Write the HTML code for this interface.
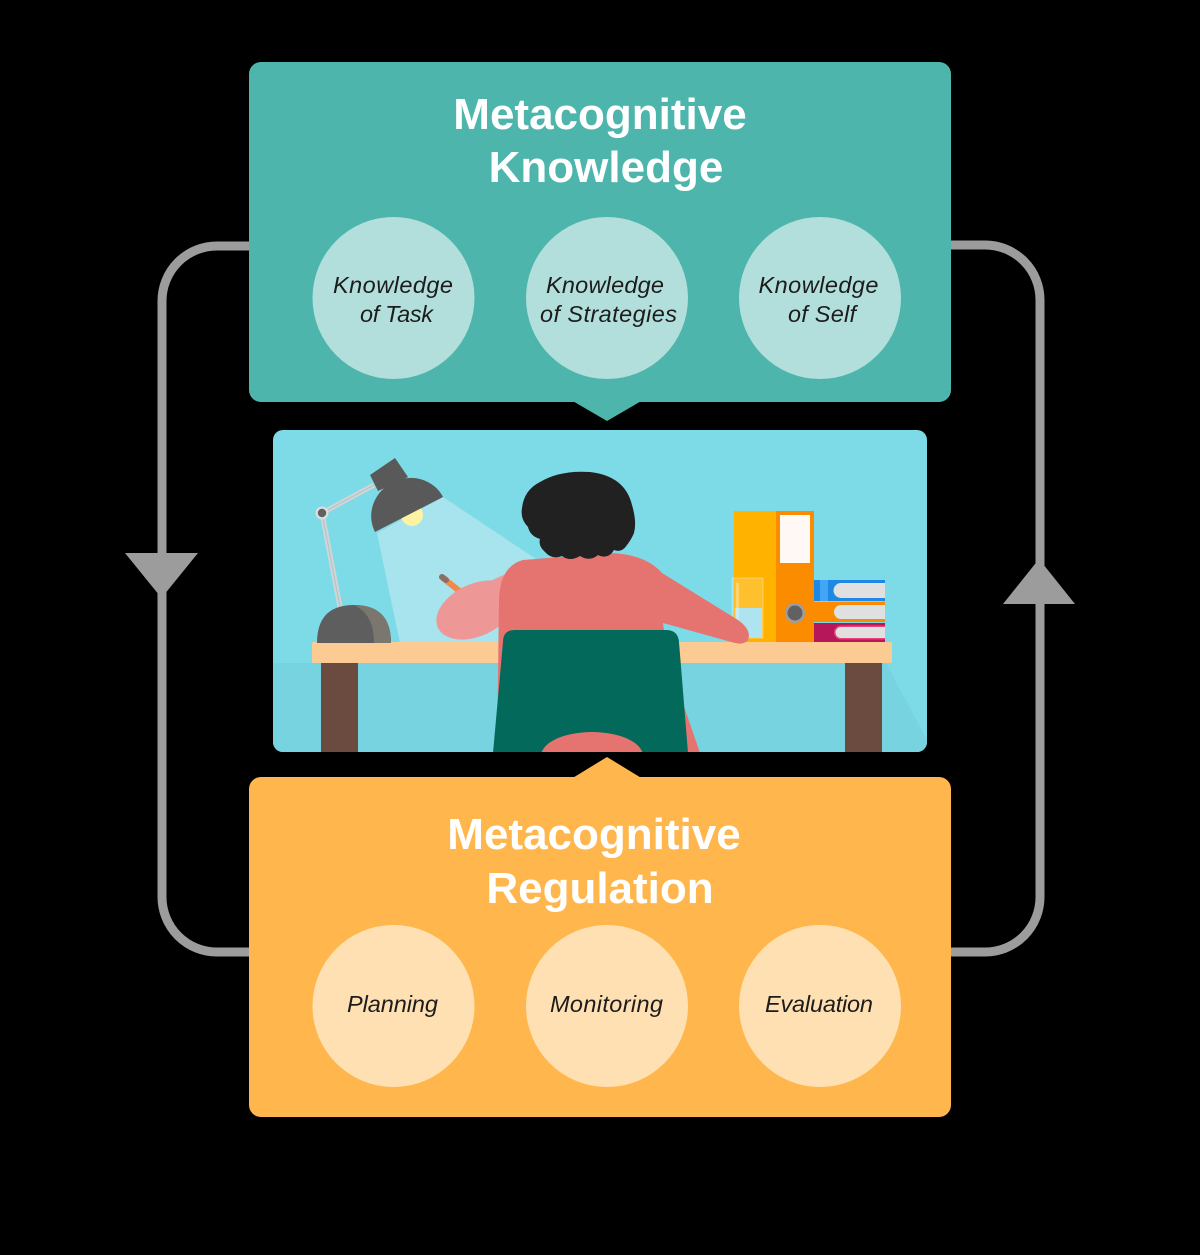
<!DOCTYPE html>
<html>
<head>
<meta charset="utf-8">
<style>
  html, body { margin: 0; padding: 0; background: #000; }
  svg { display: block; }
  .title { font-family: "Liberation Sans", Arial, sans-serif; font-weight: bold; font-size: 44px; fill: #ffffff; }
  .lbl { font-family: "Liberation Sans", Arial, sans-serif; font-style: italic; font-size: 23.5px; fill: #1c1c1c; }
</style>
</head>
<body>
<svg width="1200" height="1255" viewBox="0 0 1200 1255" xmlns="http://www.w3.org/2000/svg">
  <rect x="0" y="0" width="1200" height="1255" fill="#000"/>

  <!-- connectors -->
  <path d="M 249 246 H 217 A 55 55 0 0 0 162 301 V 897 A 55 55 0 0 0 217 952 H 249" fill="none" stroke="#9c9c9c" stroke-width="9"/>
  <path d="M 951 245 H 985 A 55 55 0 0 1 1040 300 V 897 A 55 55 0 0 1 985 952 H 951" fill="none" stroke="#9c9c9c" stroke-width="9"/>
  <polygon points="125,553 198,553 161.5,598" fill="#9c9c9c"/>
  <polygon points="1003,604 1075,604 1039,559" fill="#9c9c9c"/>

  <!-- top box -->
  <rect x="249" y="62" width="702" height="340" rx="12" fill="#4db5ab"/>
  <polygon points="571,400 643,400 607,421" fill="#4db5ab"/>
  <text class="title" x="600" y="129" text-anchor="middle">Metacognitive</text>
  <text class="title" x="606" y="182" text-anchor="middle">Knowledge</text>

  <circle cx="393.5" cy="298" r="81" fill="#b2dfdb"/>
  <circle cx="607" cy="298" r="81" fill="#b2dfdb"/>
  <circle cx="820" cy="298" r="81" fill="#b2dfdb"/>
  <text class="lbl" x="393" y="293" text-anchor="middle" textLength="120" lengthAdjust="spacing">Knowledge</text>
  <text class="lbl" x="396.5" y="322" text-anchor="middle" textLength="73" lengthAdjust="spacing">of Task</text>
  <text class="lbl" x="605" y="293" text-anchor="middle" textLength="118" lengthAdjust="spacing">Knowledge</text>
  <text class="lbl" x="608.5" y="322" text-anchor="middle" textLength="137" lengthAdjust="spacing">of Strategies</text>
  <text class="lbl" x="818.5" y="293" text-anchor="middle" textLength="120" lengthAdjust="spacing">Knowledge</text>
  <text class="lbl" x="822" y="322" text-anchor="middle" textLength="68" lengthAdjust="spacing">of Self</text>

  <!-- bottom box -->
  <rect x="249" y="777" width="702" height="340" rx="12" fill="#ffb74d"/>
  <polygon points="571,779 643,779 607,757" fill="#ffb74d"/>
  <text class="title" x="594" y="849" text-anchor="middle">Metacognitive</text>
  <text class="title" x="600" y="903" text-anchor="middle">Regulation</text>

  <circle cx="393.5" cy="1006" r="81" fill="#ffe0b2"/>
  <circle cx="607" cy="1006" r="81" fill="#ffe0b2"/>
  <circle cx="820" cy="1006" r="81" fill="#ffe0b2"/>
  <text class="lbl" x="392.5" y="1012" text-anchor="middle" textLength="91" lengthAdjust="spacing">Planning</text>
  <text class="lbl" x="606.5" y="1012" text-anchor="middle" textLength="113" lengthAdjust="spacing">Monitoring</text>
  <text class="lbl" x="819" y="1012" text-anchor="middle" textLength="108" lengthAdjust="spacing">Evaluation</text>

  <!-- illustration -->
  <defs>
    <clipPath id="ill">
      <rect x="273" y="430" width="654" height="322" rx="10"/>
    </clipPath>
  </defs>
  <g clip-path="url(#ill)">
    <rect x="273" y="430" width="654" height="322" fill="#7ddbe8"/>
    <polygon points="273,663 886,663 927,740 927,752 273,752" fill="#76d3df"/>

    <!-- light beam -->
    <polygon points="377,533 443,497 545,565 525,643 400,643" fill="#a7e4ed"/>

    <!-- desk -->
    <rect x="312" y="642" width="580" height="21" rx="2" fill="#fccb94"/>
    <rect x="321" y="663" width="37" height="92" fill="#6b4b40"/>
    <rect x="845" y="663" width="37" height="92" fill="#6b4b40"/>

    <!-- lamp arms -->
    <line x1="322" y1="513" x2="340" y2="607" stroke="#d4d4d4" stroke-width="5"/>
    <line x1="322" y1="513" x2="340" y2="607" stroke="#a9c9cf" stroke-width="1.2"/>
    <line x1="322" y1="513" x2="374" y2="485" stroke="#d4d4d4" stroke-width="5"/>
    <line x1="322" y1="513" x2="374" y2="485" stroke="#a9c9cf" stroke-width="1.2"/>
    <circle cx="322" cy="513" r="6.5" fill="#dedede"/>
    <circle cx="322" cy="513" r="4.2" fill="#616161"/>

    <!-- lamp base -->
    <path d="M 317 643 Q 317 605 354 605 Q 391 605 391 643 Z" fill="#5e5e5e"/>
    <path d="M 354 605 Q 391 605 391 643 L 374 643 Q 374 614 354 605 Z" fill="#7b776e"/>

    <!-- bulb + shade -->
    <circle cx="412" cy="515" r="11" fill="#fdf3a2"/>
    <path d="M 375 532 A 38 36 -27 0 1 443 497 Z" fill="#595959"/>
    <polygon points="370,475 395,458 408,477 378,491" fill="#595959"/>

    <!-- folders -->
    <rect x="734" y="511" width="42" height="131" fill="#ffb300"/>
    <rect x="776" y="511" width="38" height="131" fill="#fb8c00"/>
    <rect x="780" y="515" width="30" height="48" fill="#fff8f4"/>
    <circle cx="795" cy="613" r="10" fill="#9e9e9e"/>
    <circle cx="795" cy="613" r="7.5" fill="#616161"/>

    <!-- glass -->
    <rect x="732" y="578" width="31" height="60" fill="#ffffff" fill-opacity="0.18" stroke="#ffffff" stroke-opacity="0.3" stroke-width="1"/>
    <rect x="735" y="608" width="27" height="30" fill="#aee4ef"/>
    <rect x="736" y="583" width="3" height="52" fill="#ffffff" fill-opacity="0.3"/>

    <!-- books -->
    <rect x="814" y="580" width="71" height="21" fill="#1e88e5"/>
    <rect x="820" y="580" width="8" height="21" fill="#42a5f5"/>
    <path d="M 885 583 H 841 A 7.5 7.5 0 0 0 841 598 H 885 Z" fill="#e0e0e0"/>
    <rect x="814" y="602" width="71" height="20" fill="#fb8c00"/>
    <path d="M 885 605 H 841 A 7 7 0 0 0 841 619 H 885 Z" fill="#e0e0e0"/>
    <rect x="814" y="623" width="71" height="19" fill="#b5175a"/>
    <path d="M 885 625.5 H 841 A 7 7 0 0 0 841 639.5 H 885 Z" fill="#ec407a"/>
    <path d="M 885 627 H 841 A 5.5 5.5 0 0 0 841 638 H 885 Z" fill="#e0e0e0"/>

    <!-- left arm + pencil -->
    <line x1="443" y1="578" x2="467" y2="597" stroke="#f08a4b" stroke-width="6" stroke-linecap="round"/>
    <line x1="442" y1="577" x2="446" y2="580" stroke="#8d6e63" stroke-width="6" stroke-linecap="round"/>
    <ellipse cx="476" cy="610" rx="42" ry="26" transform="rotate(-25 476 610)" fill="#ee9797"/>
    <polygon points="470,590 515,570 520,610 480,632" fill="#ee9797"/>

    <!-- body -->
    <path d="M 497 753 L 499 600 Q 500 566 523 560 L 610 553 Q 645 554 662 573 L 738 620 Q 752 630 748 640 Q 744 645 735 643 L 663 623 L 668 660 L 700 753 Z" fill="#e5736f"/>

    <!-- hair -->
    <path d="M 540 482 Q 560 470 590 472 Q 625 476 632 505 Q 637 522 634 533 Q 631 540 627 545 Q 622 553 614 550 Q 608 560 598 555 Q 590 562 580 556 Q 570 562 562 556 Q 552 560 545 552 Q 538 546 540 539 Q 530 536 528 527 Q 520 519 522 508 Q 524 490 540 482 Z" fill="#212121"/>

    <!-- chair -->
    <path d="M 503 642 Q 503 630 515 630 L 666 630 Q 678 630 679 642 L 688 753 L 493 753 Z" fill="#03695b"/>
    <ellipse cx="592" cy="756" rx="51" ry="24" fill="#e5736f"/>
  </g>
</svg>
</body>
</html>
